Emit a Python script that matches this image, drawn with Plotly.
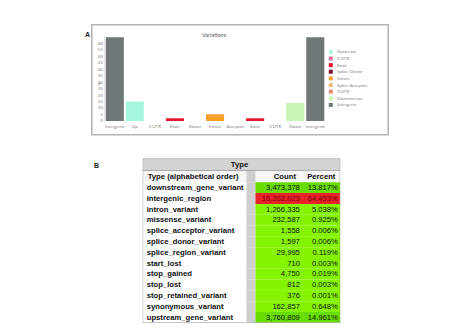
import plotly.graph_objects as go

# ---- Panel A: variation classes (% of all variants) ----
var_labels = ["Intergenic", "Up", "5'UTR", "Exon", "Donor", "Intron",
              "Acceptor", "Exon", "3'UTR", "Down", "Intergenic"]
var_percent = [64.45, 14.96, 0.0, 2.0, 0.0, 5.04, 0.0, 2.0, 0.0, 13.82, 64.45]
var_kind = ["Intergenic", "Upstream", "5'UTR", "Exon", "Splice Donor", "Intron",
            "Splice Acceptor", "Exon", "3'UTR", "Downstream", "Intergenic"]

legend_names = ["Upstream", "5'UTR", "Exon", "Splice Donor", "Intron",
                "Splice Acceptor", "3'UTR", "Downstream", "Intergenic"]

# ---- Panel B: variant type table ----
type_names = ["downstream_gene_variant", "intergenic_region", "intron_variant",
              "missense_variant", "splice_acceptor_variant", "splice_donor_variant",
              "splice_region_variant", "start_lost", "stop_gained", "stop_lost",
              "stop_retained_variant", "synonymous_variant", "upstream_gene_variant"]
type_counts = [3473378, 16202023, 1266335, 232587, 1558, 1597, 29995,
               710, 4750, 812, 376, 162857, 3760809]
type_percent = [13.817, 64.453, 5.038, 0.925, 0.006, 0.006, 0.119,
                0.003, 0.019, 0.003, 0.001, 0.648, 14.961]

W, H = 474, 334


def px(x):
    return x / W


def py(y):
    return 1 - y / H


kind_colors = {
    "Upstream": "#a6f6dd",
    "5'UTR": "#e8729b",
    "Exon": "#e5172c",
    "Splice Donor": "#7c0c2c",
    "Intron": "#f6a02a",
    "Splice Acceptor": "#f3ba80",
    "3'UTR": "#e58c74",
    "Downstream": "#c9f6b6",
    "Intergenic": "#6f7876",
}

chart_font = "Lato"
table_font = "Liberation Sans"
fig = go.Figure()

fig.add_trace(go.Bar(
    x=list(range(len(var_labels))),
    y=var_percent,
    marker=dict(color=[kind_colors[k] for k in var_kind], line=dict(width=0)),
    showlegend=False,
    hoverinfo="skip",
))

# ---- table drawn on its own axes (x2/y2), units are pixels ----
col_w = [104, 9, 85]            # name | spacer | count+percent
col_x0 = [0, 104, 113]
table_w = sum(col_w)
super_h, head_h, row_h = 12, 12, 10.9
n = len(type_names)
row_y = [super_h + head_h + (i + 0.5) * row_h for i in range(n)]
table_h = super_h + head_h + n * row_h


def row_fill(p):
    if p > 50:
        return "#e8222a"
    if p > 10:
        return "#66dc00"
    return "#84f400"


def row_text(p):
    return "#7a0000" if p > 50 else "#111111"


fills = [row_fill(p) for p in type_percent]
tcolors = [row_text(p) for p in type_percent]
gap_gray = "#cfcfcf"
head_bg = "#f6f6f6"


def cell_bar(ys, heights, x0, w, colors):
    return go.Bar(
        orientation="h", y=ys, x=[w] * len(ys), base=[x0] * len(ys), width=heights,
        marker=dict(color=colors, line=dict(width=0)), xaxis="x2", yaxis="y2",
        showlegend=False, hoverinfo="skip",
    )


# super header and header row backgrounds
fig.add_trace(cell_bar([super_h / 2], [super_h], 0, table_w, ["#d4d4d4"]))
fig.add_trace(cell_bar([super_h + head_h / 2], [head_h], col_x0[0], col_w[0], [head_bg]))
fig.add_trace(cell_bar([super_h + head_h / 2], [head_h], col_x0[2], col_w[2], [head_bg]))
fig.add_trace(cell_bar([super_h + head_h / 2], [head_h], col_x0[1], col_w[1], [gap_gray]))
# body backgrounds
fig.add_trace(cell_bar(row_y, [row_h] * n, col_x0[0], col_w[0], ["white"] * n))
fig.add_trace(cell_bar(row_y, [row_h] * n, col_x0[1], col_w[1], [gap_gray] * n))
fig.add_trace(cell_bar(row_y, [row_h + 0.05] * n, col_x0[2], col_w[2], fills))

# header texts
fig.add_trace(go.Scatter(
    x=[97, 5, 142.5, 179], y=[super_h / 2 + 0.5] + [super_h + head_h / 2 + 0.5] * 3,
    mode="text",
    text=["<b>Type</b>", "<b>Type (alphabetical order)</b>", "<b>Count</b>", "<b>Percent</b>"],
    textposition=["middle center", "middle right", "middle center", "middle center"],
    textfont=dict(family=table_font, size=7.7, color="#111111"),
    xaxis="x2", yaxis="y2", showlegend=False, hoverinfo="skip",
))
# body texts
fig.add_trace(go.Scatter(
    x=[4] * n, y=[y + 0.4 for y in row_y], mode="text",
    text=[f"<b>{t}</b>" for t in type_names], textposition="middle right",
    textfont=dict(family=table_font, size=7.7, color="#111111"),
    xaxis="x2", yaxis="y2", showlegend=False, hoverinfo="skip",
))
fig.add_trace(go.Scatter(
    x=[157.5] * n, y=[y + 0.4 for y in row_y], mode="text",
    text=[f"{c:,}" for c in type_counts], textposition="middle left",
    textfont=dict(family=table_font, size=7.6, color=tcolors),
    xaxis="x2", yaxis="y2", showlegend=False, hoverinfo="skip",
))
fig.add_trace(go.Scatter(
    x=[195.5] * n, y=[y + 0.4 for y in row_y], mode="text",
    text=[f"{p:.3f}%" for p in type_percent], textposition="middle left",
    textfont=dict(family=table_font, size=7.6, color=tcolors),
    xaxis="x2", yaxis="y2", showlegend=False, hoverinfo="skip",
))

shapes = [
    # panel A frame
    dict(type="rect", xref="paper", yref="paper", x0=px(92), x1=px(389),
         y0=py(136), y1=py(25), line=dict(color="#b4b4b4", width=1.5)),
    # table frame and header rule
    dict(type="rect", xref="x2", yref="y2", x0=0, x1=table_w, y0=0, y1=table_h,
         line=dict(color="#9a9a9a", width=1)),
    dict(type="line", xref="x2", yref="y2", x0=0, x1=table_w, y0=super_h, y1=super_h,
         line=dict(color="#a8a8a8", width=1)),
]

annotations = [
    dict(text="<b>A</b>", x=px(83), y=py(29), xref="paper", yref="paper",
         showarrow=False, font=dict(family=table_font, size=7, color="#222")),
    dict(text="<b>B</b>", x=px(92), y=py(167), xref="paper", yref="paper",
         showarrow=False, font=dict(family=table_font, size=7, color="#222")),
    dict(text="Variations", x=px(215), y=py(30), xref="paper", yref="paper",
         showarrow=False, font=dict(family=chart_font, size=5.5, color="#555")),
    dict(text="%", x=px(95), y=py(80), xref="paper", yref="paper", textangle=-90,
         showarrow=False, font=dict(family=chart_font, size=4.5, color="#888")),
]

# legend swatches and labels
leg_top, leg_step = 52.3, 6.7
for i, name in enumerate(legend_names):
    yc = leg_top + i * leg_step
    shapes.append(dict(type="rect", xref="paper", yref="paper",
                       x0=px(329.5), x1=px(333.5), y0=py(yc + 2), y1=py(yc - 2),
                       fillcolor=kind_colors[name], line=dict(width=0)))
    annotations.append(dict(text=name, x=px(336), y=py(yc), xref="paper", yref="paper",
                            xanchor="left", yanchor="middle", showarrow=False,
                            font=dict(family=chart_font, size=4.5, color="#888")))

y_top = 36.4
fig.update_layout(
    width=W, height=H,
    margin=dict(l=0, r=0, t=0, b=0),
    paper_bgcolor="white", plot_bgcolor="white",
    bargap=0.1, barmode="overlay",
    showlegend=False,
    xaxis=dict(domain=[px(105), px(326)], range=[-0.5, len(var_labels) - 0.5],
               tickmode="array", tickvals=list(range(len(var_labels))), ticktext=var_labels,
               showgrid=False, zeroline=False, showline=False, ticks="",
               ticklabelstandoff=2,
               tickfont=dict(family=chart_font, size=4.5, color="#888")),
    yaxis=dict(domain=[py(122), py(y_top)], range=[0, 65.3],
               tickmode="array", tickvals=list(range(0, 61, 5)),
               showgrid=False, zeroline=False, showline=True, linecolor="#e4e4e4", linewidth=1,
               ticks="", tickfont=dict(family=chart_font, size=4.5, color="#888")),
    xaxis2=dict(domain=[px(143), px(143 + table_w)], range=[0, table_w], anchor="y2",
                visible=False, fixedrange=True),
    yaxis2=dict(domain=[py(160 + table_h), py(160)], range=[table_h, 0], anchor="x2",
                visible=False, fixedrange=True),
    shapes=shapes,
    annotations=annotations,
)

fig.write_html("out.html")
